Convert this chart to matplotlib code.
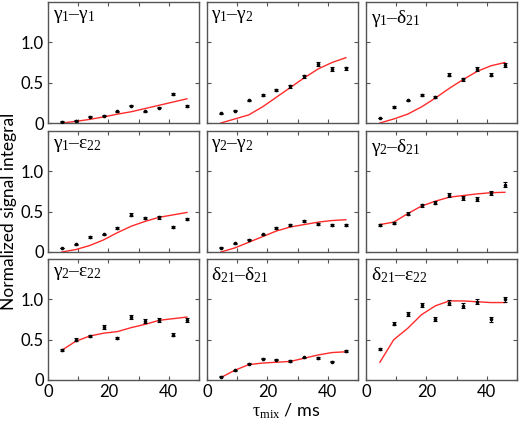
import numpy as np
import matplotlib.pyplot as plt
from matplotlib.ticker import FixedLocator, FixedFormatter

plt.rcParams['mathtext.fontset'] = 'custom'
plt.rcParams['mathtext.rm'] = 'Liberation Serif'
plt.rcParams['mathtext.it'] = 'Liberation Serif'

# mixing times (ms)
tmix = [4.6, 9.2, 13.8, 18.4, 23.0, 27.6, 32.2, 36.8, 41.4, 46.0]

titles = [r'$\gamma_1$–$\gamma_1$', r'$\gamma_1$–$\gamma_2$', r'$\gamma_1$–$\delta_{21}$',
          r'$\gamma_1$–$\varepsilon_{22}$', r'$\gamma_2$–$\gamma_2$', r'$\gamma_2$–$\delta_{21}$',
          r'$\gamma_2$–$\varepsilon_{22}$', r'$\delta_{21}$–$\delta_{21}$', r'$\delta_{21}$–$\varepsilon_{22}$']

# measured integrals
g1g1 = [0.016, 0.03, 0.075, 0.09, 0.145, 0.215, 0.145, 0.19, 0.36, 0.21]
g1g2 = [0.12, 0.154, 0.28, 0.35, 0.41, 0.455, 0.58, 0.735, 0.67, 0.68]
g1d21 = [0.062, 0.2, 0.28, 0.35, 0.32, 0.6, 0.54, 0.67, 0.6, 0.72]
g1e22 = [0.05, 0.095, 0.186, 0.22, 0.3, 0.46, 0.42, 0.43, 0.31, 0.41]
g2g2 = [0.055, 0.11, 0.15, 0.22, 0.3, 0.34, 0.38, 0.35, 0.34, 0.34]
g2d21 = [0.34, 0.36, 0.475, 0.58, 0.61, 0.71, 0.67, 0.66, 0.73, 0.835]
g2e22 = [0.37, 0.5, 0.545, 0.66, 0.52, 0.78, 0.73, 0.74, 0.56, 0.74]
d21d21 = [0.04, 0.12, 0.2, 0.265, 0.25, 0.235, 0.28, 0.27, 0.225, 0.36]
d21e22 = [0.38, 0.7, 0.82, 0.93, 0.76, 0.96, 0.92, 0.97, 0.75, 1.0]

# error estimates
e_g1g1 = [0.004, 0.005, 0.006, 0.006, 0.008, 0.01, 0.008, 0.009, 0.012, 0.01]
e_g1g2 = [0.005, 0.006, 0.01, 0.012, 0.014, 0.015, 0.018, 0.022, 0.02, 0.02]
e_g1d21 = [0.004, 0.008, 0.01, 0.012, 0.012, 0.02, 0.018, 0.02, 0.02, 0.022]
e_g1e22 = [0.004, 0.005, 0.008, 0.009, 0.012, 0.018, 0.016, 0.016, 0.012, 0.016]
e_g2g2 = [0.004, 0.005, 0.006, 0.009, 0.012, 0.013, 0.014, 0.013, 0.013, 0.013]
e_g2d21 = [0.012, 0.013, 0.016, 0.02, 0.02, 0.024, 0.022, 0.022, 0.024, 0.028]
e_g2e22 = [0.012, 0.016, 0.018, 0.022, 0.018, 0.026, 0.024, 0.024, 0.02, 0.024]
e_d21d21 = [0.004, 0.005, 0.007, 0.008, 0.008, 0.008, 0.009, 0.009, 0.008, 0.01]
e_d21e22 = [0.012, 0.022, 0.026, 0.03, 0.025, 0.03, 0.03, 0.03, 0.025, 0.032]

# simulated curves
s_g1g1 = [0.0, 0.02, 0.045, 0.075, 0.11, 0.14, 0.18, 0.22, 0.26, 0.30]
s_g1g2 = [0.0, 0.05, 0.1, 0.2, 0.32, 0.44, 0.56, 0.67, 0.75, 0.81]
s_g1d21 = [0.0, 0.05, 0.11, 0.2, 0.31, 0.43, 0.54, 0.64, 0.71, 0.75]
s_g1e22 = [0.0, 0.03, 0.08, 0.15, 0.24, 0.32, 0.38, 0.43, 0.46, 0.49]
s_g2g2 = [0.0, 0.05, 0.12, 0.19, 0.26, 0.31, 0.34, 0.37, 0.39, 0.4]
s_g2d21 = [0.34, 0.37, 0.475, 0.57, 0.63, 0.68, 0.7, 0.72, 0.735, 0.74]
s_g2e22 = [0.37, 0.48, 0.545, 0.58, 0.6, 0.65, 0.69, 0.74, 0.76, 0.78]
s_d21d21 = [0.03, 0.12, 0.19, 0.21, 0.22, 0.23, 0.27, 0.31, 0.34, 0.35]
s_d21e22 = [0.22, 0.5, 0.64, 0.81, 0.92, 0.98, 0.98, 0.97, 0.96, 0.96]

data = [g1g1, g1g2, g1d21, g1e22, g2g2, g2d21, g2e22, d21d21, d21e22]
errs = [e_g1g1, e_g1g2, e_g1d21, e_g1e22, e_g2g2, e_g2d21, e_g2e22, e_d21d21, e_d21e22]
sims = [s_g1g1, s_g1g2, s_g1d21, s_g1e22, s_g2g2, s_g2d21, s_g2e22, s_d21d21, s_d21e22]

fig = plt.figure(figsize=(5.2, 4.23), dpi=100)
lefts = [0.0923, 0.398, 0.7038]
bottoms = [0.7092, 0.4043, 0.1017]
w, h = 0.2904, 0.286
frame = '#555555'

for i in range(9):
    r, c = i // 3, i % 3
    ax = fig.add_axes([lefts[c], bottoms[r], w, h])
    ax.plot(tmix, sims[i], color='#ff2a2a', lw=1.0, zorder=2)
    ax.errorbar(tmix, data[i], yerr=errs[i], fmt='o', color='black', ms=1.6,
                elinewidth=0.8, capsize=1.5, capthick=0.8, zorder=3)
    ax.set_xlim(0, 50)
    ax.set_ylim(0, 1.5)
    ax.xaxis.set_major_locator(FixedLocator([0, 10, 20, 30, 40, 50]))
    ax.yaxis.set_major_locator(FixedLocator([0, 0.5, 1.0]))
    ax.tick_params(direction='in', top=True, right=True, length=3, width=0.8,
                   color=frame, labelsize=12, pad=3)
    for s in ax.spines.values():
        s.set_color(frame)
        s.set_linewidth(1.0)
    if c == 0:
        ax.yaxis.set_major_formatter(FixedFormatter(['0', '0.5', '1.0']))
    else:
        ax.set_yticklabels([])
    if r == 2:
        ax.xaxis.set_major_formatter(FixedFormatter(['0', '', '20', '', '40', '']))
    else:
        ax.set_xticklabels([])
    for lab in ax.get_xticklabels() + ax.get_yticklabels():
        lab.set_fontfamily('Lato')
    ax.text(0.03, 0.95, titles[i], transform=ax.transAxes, ha='left', va='top',
            fontsize=14, fontfamily='Liberation Serif')

fig.text(0.018, 0.5, 'Normalized signal integral', rotation=90, ha='center', va='center',
         fontsize=12.5, fontfamily='Lato')
fig.text(0.55, 0.028, r'$\tau_{\mathrm{mix}}$ / ms', ha='center', va='center',
         fontsize=13, fontfamily='Lato')

fig.savefig('out.png', dpi=100)
